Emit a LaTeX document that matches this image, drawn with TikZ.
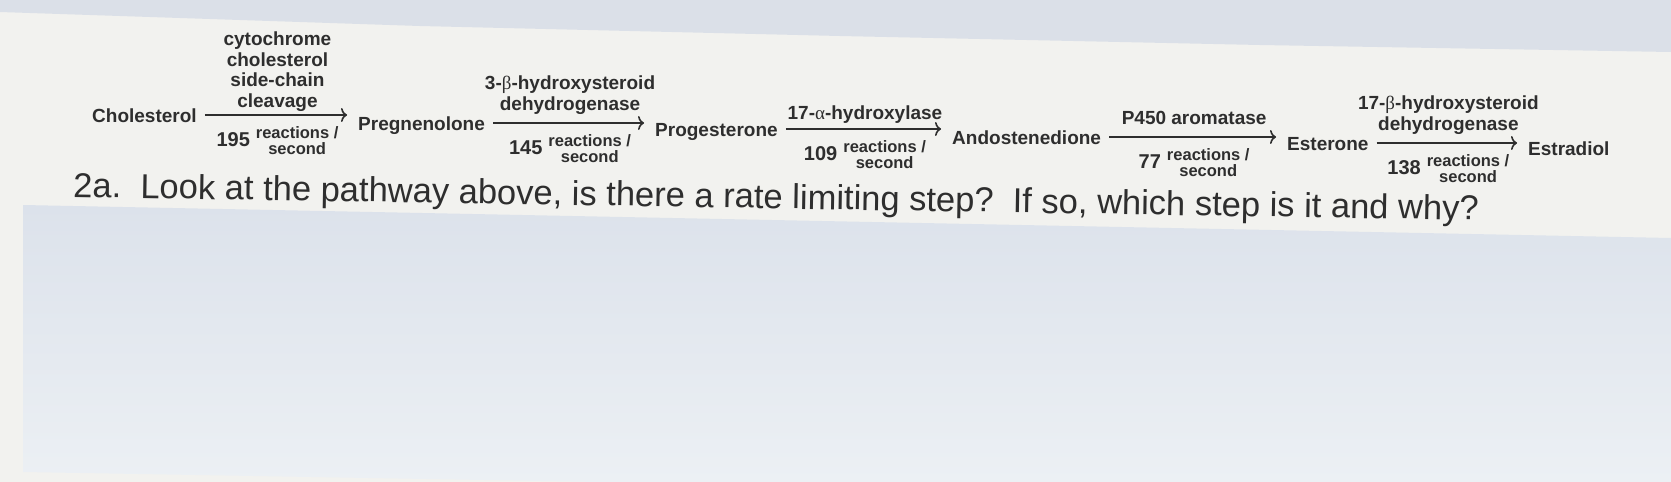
\documentclass[tikz,border=0pt]{standalone}
\usepackage{fontspec}
\setmainfont{Liberation Sans}
\newfontfamily\symfont{Liberation Serif}
\usetikzlibrary{arrows.meta}
\definecolor{paper}{HTML}{F2F2EF}
\definecolor{band}{HTML}{DBE0E8}
\definecolor{deskTop}{HTML}{DCE2EB}
\definecolor{deskBot}{HTML}{ECF0F4}
\definecolor{ink}{HTML}{2E2E2E}
\def\rate#1{{\fontsize{20}{20}\selectfont #1}\hspace{6pt}\raisebox{8pt}{\fontsize{16.5}{16.5}\selectfont\begin{tabular}[t]{@{}c@{}}reactions /\\second\end{tabular}}}
\def\enz#1{\begin{tabular}[b]{@{}c@{}}#1\end{tabular}}
\def\gk#1{{\symfont\mdseries #1}}
\tikzset{
  cmpd/.style={inner sep=0pt, anchor=west, text height=14pt, text depth=0pt, text=ink},
  rxn/.style={draw=ink, line width=1.6pt, -{To[length=6pt,width=14pt]}, shorten <=8pt, shorten >=11pt},
  enzlbl/.style={midway, anchor=base, yshift=#1, text=ink},
  enzlbl/.default=13pt,
  ratelbl/.style={midway, anchor=base, yshift=-31pt, text=ink},
  qtext/.style={anchor=base west, inner sep=0pt, rotate=-0.95, text=ink, font=\fontsize{34.5}{40}\selectfont}
}

\begin{document}
\begin{tikzpicture}[x=1pt,y=-1pt,font=\fontsize{19}{20.5}\selectfont\bfseries]
    \useasboundingbox (0,0) rectangle (1671,482);
    % photo background
    \fill[paper] (0,0) rectangle (1671,482);
    \fill[band] (0,0) -- (1671,0) -- (1671,52) -- (1260,45) -- (840,36) -- (420,26) -- (0,12) -- cycle;
    \shade[top color=deskTop, bottom color=deskBot] (23,205) -- (1671,238) -- (1671,482) -- (600,482) -- (23,472) -- cycle;

    \node[cmpd] (chol) at (92,115) {Cholesterol};
    \node[cmpd] (preg) at (358,123) {Pregnenolone};
    \node[cmpd] (prog) at (655,129) {Progesterone};
    \node[cmpd] (andro) at (952,137) {Andostenedione};
    \node[cmpd] (estrone) at (1287,143) {Esterone};
    \node[cmpd] (estradiol) at (1528,148) {Estradiol};

    \draw[rxn] (chol.east) -- (chol.east -| preg.west)
      node[enzlbl=8pt] {\enz{cytochrome\\cholesterol\\side-chain\\cleavage}}
      node[ratelbl] {\rate{195}};
    \draw[rxn] (preg.east) -- (preg.east -| prog.west)
      node[enzlbl] {\enz{3-\gk{β}-hydroxysteroid\\dehydrogenase}}
      node[ratelbl] {\rate{145}};
    \draw[rxn] (prog.east) -- (prog.east -| andro.west)
      node[enzlbl=10pt] {17-\gk{α}-hydroxylase}
      node[ratelbl] {\rate{109}};
    \draw[rxn] (andro.east) -- (andro.east -| estrone.west)
      node[enzlbl] {P450 aromatase}
      node[ratelbl] {\rate{77}};
    \draw[rxn] (estrone.east) -- (estrone.east -| estradiol.west)
      node[enzlbl] {\enz{17-\gk{β}-hydroxysteroid\\dehydrogenase}}
      node[ratelbl] {\rate{138}};

    \node[qtext] (question) at (73,197)
      {2a.\ \ Look at the pathway above, is there a rate limiting step?\ \ If so, which step is it and why?};
\end{tikzpicture}
\end{document}
